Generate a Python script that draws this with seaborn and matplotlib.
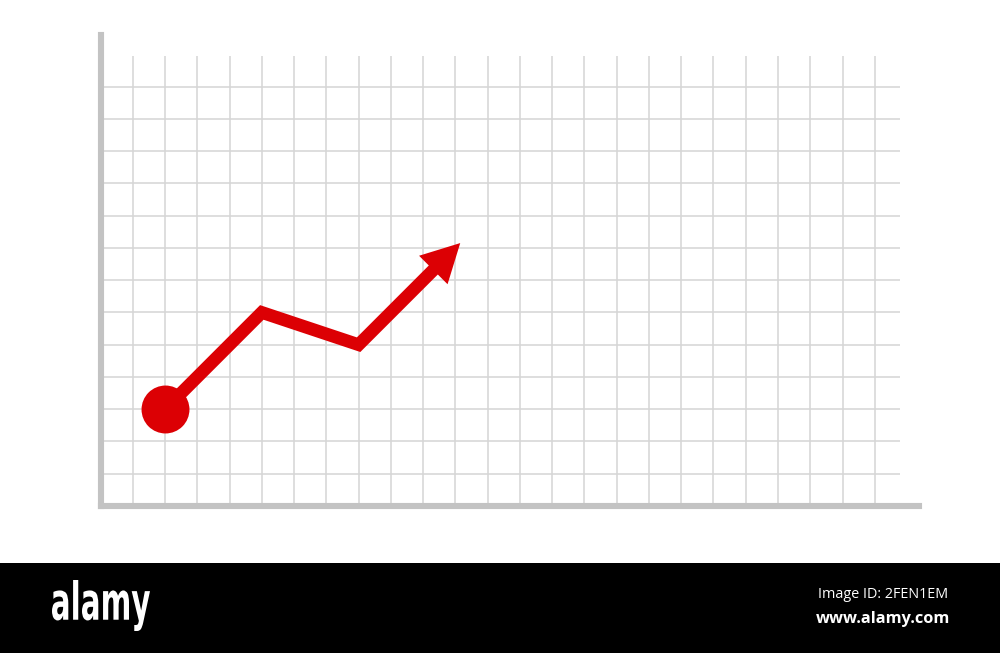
import numpy as np
import matplotlib
matplotlib.use("Agg")
import matplotlib.pyplot as plt
from matplotlib.patches import Rectangle, PathPatch
from matplotlib.textpath import TextPath
from matplotlib.font_manager import FontProperties
from matplotlib.transforms import Affine2D
import seaborn as sns

# Data (grid units)
x_vals = [2.0, 5.0, 8.0, 11.15]
y_vals = [3.0, 6.0, 5.0, 8.15]
grid_x = list(range(1, 25))
grid_y = list(range(1, 14))

logo_text = "alamy"
image_id = "Image ID: 2FEN1EM"
site_text = "www.alamy.com"

RED = "#dc0004"
GRID = "#d5d5d5"
AXIS = "#c3c3c3"

sns.set_style("white")

W, H = 1000, 653
fig = plt.figure(figsize=(W / 100, H / 100), dpi=100)
fig.patch.set_facecolor("white")
ax = fig.add_axes([0.1005, (H - 506) / H, 0.8185, (506 - 35) / H])
ax.set_xlim(0, 25.37)
ax.set_ylim(0, 14.6)

# Grid
ax.vlines(grid_x, 0, 13.94, color=GRID, linewidth=1.1, zorder=1)
ax.hlines(grid_y, 0, 24.78, color=GRID, linewidth=1.1, zorder=1)

# Spines
for side in ["top", "right"]:
    ax.spines[side].set_visible(False)
for side in ["left", "bottom"]:
    ax.spines[side].set_color(AXIS)
    ax.spines[side].set_linewidth(4.4)
ax.set_xticks([])
ax.set_yticks([])

# Line: stop the last segment at the base of the arrow head
px = np.array(x_vals, dtype=float)
py = np.array(y_vals, dtype=float)
d = np.array([px[-1] - px[-2], py[-1] - py[-2]])
d = d / np.hypot(*d)
head_len_units = 1.05
lx = px.copy()
ly = py.copy()
lx[-1] = px[-1] - d[0] * head_len_units
ly[-1] = py[-1] - d[1] * head_len_units

sns.lineplot(x=lx, y=ly, sort=False, color=RED, linewidth=9.2,
             solid_joinstyle="miter", solid_capstyle="butt", ax=ax, zorder=3)

# Start marker
sns.scatterplot(x=[x_vals[0]], y=[y_vals[0]], s=34.5 ** 2, color=RED,
                linewidth=0, ax=ax, zorder=4)

# Arrow head
ax.annotate("", xy=(x_vals[-1], y_vals[-1]), xytext=(x_vals[-2], y_vals[-2]),
            arrowprops=dict(arrowstyle="-|>,head_length=27.4,head_width=14.5",
                            mutation_scale=1, color=RED, lw=0,
                            shrinkA=0, shrinkB=0),
            zorder=5)

# Bottom black band with branding
fig.patches.append(Rectangle((0, 0), 1, 90 / H, transform=fig.transFigure,
                             facecolor="black", edgecolor="none", zorder=0))

# condensed bold logo: squeeze a bold text path into the logo box (pixels)
tp = TextPath((0, 0), logo_text, size=100,
              prop=FontProperties(family="DejaVu Sans", weight="bold"))
ext = tp.get_extents()
x0, x1 = 52, 150          # left / right edge in px
top, bot = 580, 631       # top of 'l', bottom of 'y' in px (from top)
sx = (x1 - x0) / ext.width
sy = (bot - top) / ext.height
logo_tr = (Affine2D().translate(-ext.x0, -ext.y0).scale(sx, sy)
           .translate(x0, H - bot).scale(1 / W, 1 / H) + fig.transFigure)
fig.patches.append(PathPatch(tp, transform=logo_tr, facecolor="white",
                             edgecolor="none", zorder=2))

fig.text(0.948, 1 - 595 / H, image_id, color="white", fontsize=10.4,
         family=["Open Sans", "DejaVu Sans"], ha="right", va="center")
fig.text(0.950, 1 - 619 / H, site_text, color="white", fontsize=11.8,
         fontweight="bold", family=["Open Sans", "DejaVu Sans"],
         ha="right", va="center")

fig.savefig("out.png", dpi=100, facecolor="white")
